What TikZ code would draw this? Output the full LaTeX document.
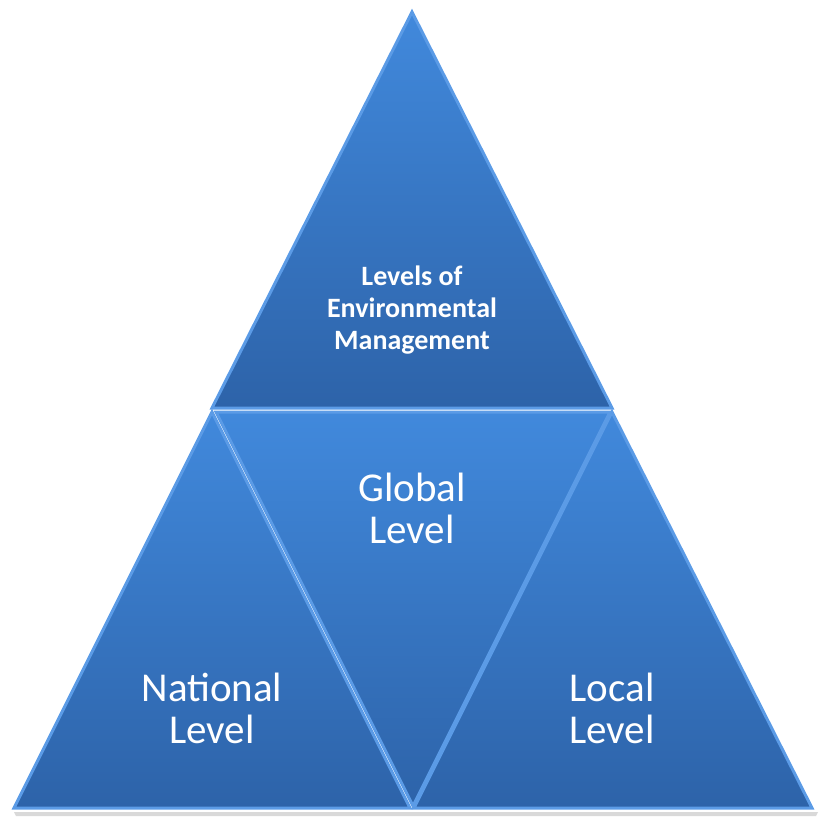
\documentclass[tikz,border=0pt]{standalone}
\usepackage{fontspec}
\setmainfont{Carlito}
\definecolor{triTop}{HTML}{4189DC}
\definecolor{triBot}{HTML}{2D63A9}
\definecolor{edge}{HTML}{5B9BE6}
\tikzset{tripiece/.style={top color=triTop,bottom color=triBot,draw=edge,line width=3pt,line join=miter},
lbl/.style={text=white,align=center,font=\fontsize{41}{42}\selectfont}}
\begin{document}
\begin{tikzpicture}[x=1pt,y=-1pt]
\useasboundingbox (0,0) rectangle (826,822);
\fill[gray!30] (14,812) -- (818,812) -- (816,816) -- (16,816) -- cycle;
\draw[tripiece] (412,12) -- (612,408) -- (212,408) -- cycle;
\draw[tripiece] (212,412) -- (410,808) -- (14,808) -- cycle;
\draw[tripiece] (216,412) -- (610,412) -- (413,806) -- cycle;
\draw[tripiece] (612,412) -- (812,808) -- (414,808) -- cycle;
\node[lbl,font=\bfseries\fontsize{28}{32}\selectfont] (top) at (412,310) {Levels of\\Environmental\\Management};
\node[lbl] (glob) at (412,508) {Global\\Level};
\node[lbl] (nat) at (212,708) {National\\Level};
\node[lbl] (loc) at (612,708) {Local\\Level};
\end{tikzpicture}
\end{document}
